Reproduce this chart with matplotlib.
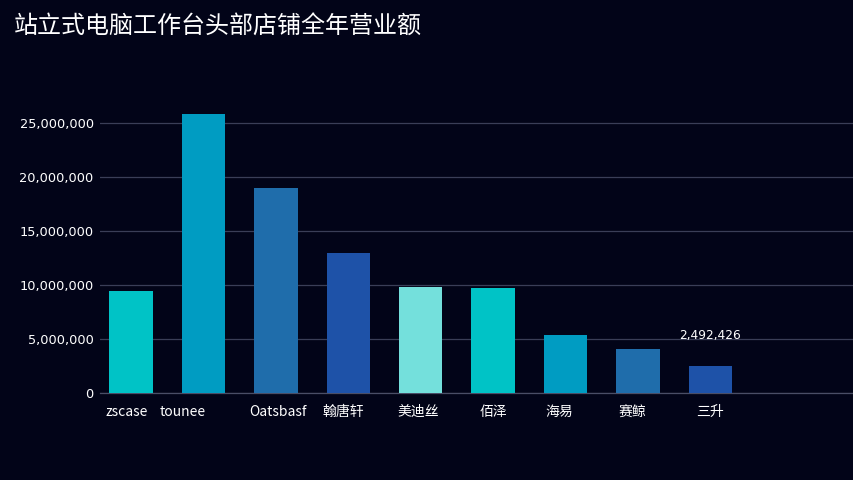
import matplotlib
matplotlib.use("Agg")
import matplotlib.pyplot as plt
import matplotlib.transforms as mtransforms
from matplotlib.ticker import FuncFormatter

plt.rcParams['font.family'] = ['Noto Sans CJK SC', 'DejaVu Sans']

# data
shops = ["zscase", "tounee", "Oatsbasf", "翰唐轩", "美迪丝", "佰泽", "海易", "赛鲸", "三升"]
sales = [9440000, 25830000, 18980000, 12960000, 9810000, 9720000, 5370000, 4070000, 2492426]
palette = ["#00c3c6", "#009cc2", "#1f6dab", "#1e52a8", "#74e0dc"]
yticks = [0, 5000000, 10000000, 15000000, 20000000, 25000000]
title = "站立式电脑工作台头部店铺全年营业额"

bg = "#020418"
fig = plt.figure(figsize=(8.54, 4.8), dpi=100, facecolor=bg)
ax = fig.add_axes([100 / 854, 87 / 480, 753 / 854, 27 * 10.8 / 480])
ax.set_facecolor(bg)

x = list(range(len(shops)))
colors = [palette[i % len(palette)] for i in x]
ax.bar(x, sales, width=0.6, color=colors, zorder=3)

ax.set_xlim(-0.428, 9.97)
ax.set_ylim(0, 27000000)
ax.set_yticks(yticks)
ax.yaxis.set_major_formatter(FuncFormatter(lambda v, p: f"{int(v):,}"))
ax.grid(axis='y', color="#3a3e57", linewidth=0.9, zorder=0)
for s in ["top", "right", "left"]:
    ax.spines[s].set_visible(False)
ax.spines["bottom"].set_color("#4a4e66")
ax.spines["bottom"].set_linewidth(0.9)

ax.set_xticks(x)
ax.set_xticklabels(shops, fontsize=10, color="white")
ax.tick_params(axis='x', length=0, pad=8.5)
ax.tick_params(axis='y', length=0, pad=4.5, labelsize=9.3, labelcolor="white")
for lab in ax.get_yticklabels():
    lab.set_family('DejaVu Sans')

# small horizontal nudges of the category labels, as in the original layout
nudges = [-4, -21, 2, -5, -2, 0, -6, -6, 0]
for lab, dx in zip(ax.get_xticklabels(), nudges):
    lab.set_transform(lab.get_transform() + mtransforms.ScaledTranslation(dx / 100, 0, fig.dpi_scale_trans))

# label on the last bar
last = len(shops) - 1
ax.annotate(f"{sales[last]:,}", xy=(last, sales[last]), xytext=(0, 17),
            textcoords="offset points", ha="center", va="bottom",
            fontsize=8.7, color="white", family='DejaVu Sans')

fig.text(14 / 854, 1 - 27 / 480, title, fontsize=17.3, color="white", va="center", ha="left")

fig.savefig("out.png", dpi=100, facecolor=bg)
